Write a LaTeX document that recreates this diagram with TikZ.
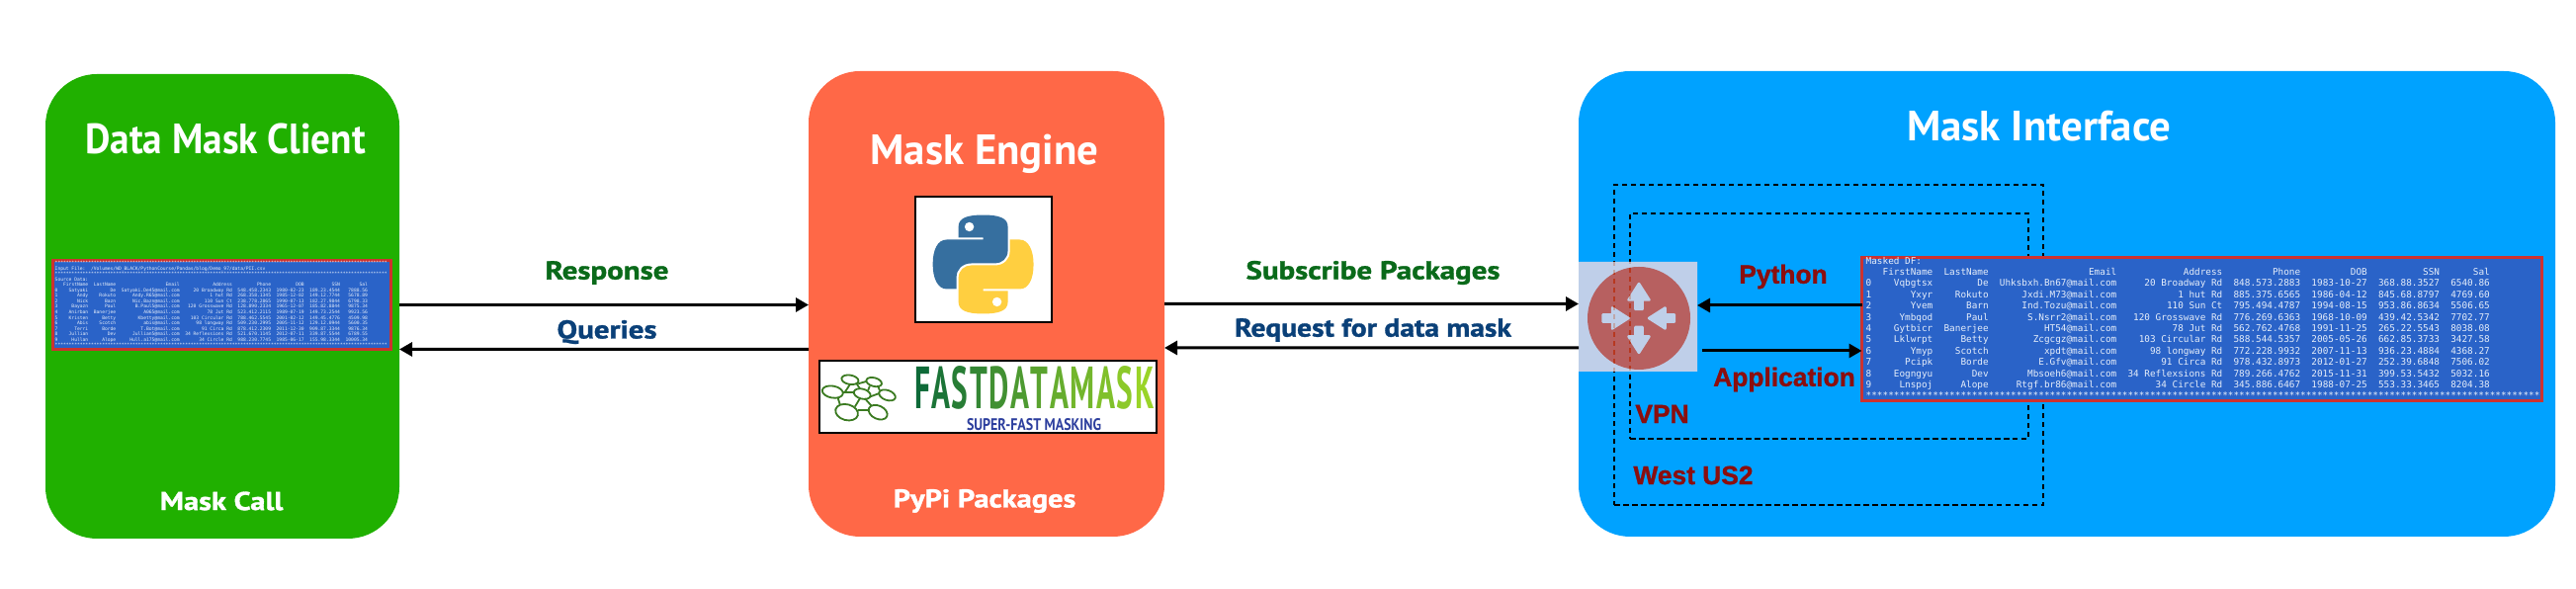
\documentclass[tikz,border=0pt]{standalone}
\usepackage{fontspec}
\setmainfont{PT Sans}
\setmonofont{DejaVu Sans Mono}
\newfontfamily\heavyfont{Liberation Sans}[BoldFeatures={FakeBold=1.2}]
\newfontfamily\flowfont{PT Sans}[BoldFeatures={FakeBold=1.2}]
\usetikzlibrary{arrows.meta}
\definecolor{clientgreen}{HTML}{20B000}
\definecolor{engineorange}{HTML}{FF6847}
\definecolor{ifaceblue}{HTML}{00A2FF}
\definecolor{tableblue}{HTML}{2A63C8}
\definecolor{tablered}{HTML}{CC3230}
\definecolor{tabletext}{HTML}{E6EEFA}
\definecolor{labelgreen}{HTML}{0A6A1A}
\definecolor{labelnavy}{HTML}{0A4078}
\definecolor{labelred}{HTML}{8B0E0E}
\definecolor{pyblue}{HTML}{366F9F}
\definecolor{pyyellow}{HTML}{FFCF40}
\definecolor{fdmdark}{HTML}{0E6A38}
\definecolor{fdmlime}{HTML}{9AD428}
\definecolor{fdmnet}{HTML}{3A7A20}
\definecolor{fdmtag}{HTML}{2D3F9E}
\definecolor{routerpink}{HTML}{FFDFE2}
\definecolor{routerred}{HTML}{F54B2B}
\newcommand{\bigtablefont}{\fontsize{2.663}{3.243}\selectfont\ttfamily\settowidth{\tabcolsep}{0}}
\newcommand{\smalltablefont}{\fontsize{1.323}{1.58}\selectfont\ttfamily\settowidth{\tabcolsep}{0}}
\newcommand{\starline}[1]{\multicolumn{9}{@{}l}{\rlap{\foreach \i in {1,...,#1}{*}}}}
\newcommand{\fulline}[1]{\multicolumn{9}{@{}l}{\rlap{#1}}}
\tikzset{
  panel/.style={rectangle, rounded corners=0.52cm, inner sep=0pt, outer sep=0pt},
  paneltitle/.style={text=white, inner sep=0pt, font=\fontsize{12.2}{14}\selectfont\bfseries},
  panelfoot/.style={text=white, inner sep=0pt, xscale=1.17, transform shape, font=\fontsize{7.4}{9}\selectfont\flowfont\bfseries},
  flowlabel/.style={inner sep=0pt, xscale=1.19, transform shape, font=\fontsize{7.4}{9}\selectfont\flowfont\bfseries},
  zonelabel/.style={text=labelred, inner sep=0pt, font=\fontsize{7.5}{9}\selectfont\heavyfont\bfseries},
  tablebox/.style={rectangle, draw=tablered, fill=tableblue, line width=0.03cm, inner sep=0pt, outer sep=0pt},
  logobox/.style={rectangle, draw=black, fill=white, line width=0.025cm, inner sep=0pt, outer sep=0pt},
  zonebox/.style={rectangle, draw=black, line width=0.02cm, dash pattern=on 0.055cm off 0.035cm, inner sep=0pt, outer sep=0pt},
  flow/.style={-{Triangle[length=0.13cm,width=0.14cm]}, line width=0.03cm, black},
  pysnake/.pic={
    \fill [pic actions] (-25,27) -- (-25,38) .. controls (-25,47) and (-16,50) .. (0,50)
      .. controls (16,50) and (25,47) .. (25,38) -- (25,14)
      .. controls (25,6) and (19,1) .. (12,1) -- (-12,1)
      .. controls (-21,1) and (-27,-5) .. (-27,-13) -- (-27,-25) -- (-37,-25)
      .. controls (-46,-25) and (-51,-14) .. (-51,0)
      .. controls (-51,15) and (-46,25) .. (-37,25) -- (0,25) -- (0,27) -- cycle;
  },
  routerglyph/.pic={
    \filldraw [pic actions, line join=round, line width=0.025cm] (0,13) -- (10.5,-3.5) -- (3.7,-3.5)
      -- (3.7,-13) -- (-3.7,-13) -- (-3.7,-3.5) -- (-10.5,-3.5) -- cycle;
  }
}
\begin{document}
\begin{tikzpicture}
  \useasboundingbox (0,0) rectangle (26.06,5.96);
  \node (client) [panel, fill=clientgreen, minimum width=3.58cm, minimum height=4.70cm] at (2.25,2.86) {};
  \node (engine) [panel, fill=engineorange, minimum width=3.60cm, minimum height=4.71cm] at (9.98,2.885) {};
  \node (iface) [panel, fill=ifaceblue, minimum width=9.88cm, minimum height=4.71cm] at (20.91,2.885) {};

  \node (clienttitle) [paneltitle, xscale=0.915, transform shape] at (2.28,4.55) {Data Mask Client};
  \node (clientfoot) [panelfoot] at (2.24,0.89) {Mask Call};
  \node (enginetitle) [paneltitle] at (9.96,4.40) {Mask Engine};
  \node (enginefoot) [panelfoot] at (9.96,0.89) {PyPi Packages};
  \node (ifacetitle) [paneltitle] at (20.63,4.68) {Mask Interface};

  \node (clienttable) [tablebox, minimum width=3.42cm, minimum height=0.90cm] at (2.245,2.875) {};
  \node (clientrows) [anchor=north west, inner sep=0pt, text=tabletext, font=\smalltablefont] at (0.55,3.33) {%
    \begin{tabular}{@{}l*{8}{r}@{}}
    \starline{120}\\
    \fulline{Input File:~~/Volumes/WD\_BLACK/PythonCourse/Pandas/blog/Demo\_97/data/PII.csv}\\
    \starline{120}\\
    \fulline{Source Data:}\\
     & FirstName & LastName & Email & Address & Phone & DOB & SSN & Sal\\
    0 & Satyaki & De & Satyaki.De45@mail.com & 20 Broadway Rd & 548.458.2343 & 1980-02-23 & 189.23.4544 & 7888.56\\
    1 & Andy & Rokuto & Andy.R65@mail.com & 1 hut Rd & 268.358.1345 & 1985-12-02 & 149.12.7744 & 5678.89\\
    2 & Nick & Bazn & Nic.Bazn@mail.com & 110 Sun Ct & 238.778.2865 & 1990-07-13 & 182.27.9844 & 6798.33\\
    3 & Bayazn & Paul & B.Paul5@mail.com & 120 Grosswave Rd & 128.890.2334 & 1965-12-07 & 185.82.8844 & 9875.34\\
    4 & Anirban & Banerjee & A065@mail.com & 78 Jut Rd & 523.412.2115 & 1989-07-19 & 149.73.2544 & 9923.56\\
    5 & Kristen & Betty & Kbetty@mail.com & 103 Circular Rd & 788.462.5545 & 2001-02-12 & 149.45.4776 & 4509.98\\
    6 & Abis & Scotch & abis@mail.com & 98 longway Rd & 509.230.2995 & 2005-11-12 & 129.12.0944 & 5600.35\\
    7 & Terri & Borde & T.Bot@mail.com & 91 Circa Rd & 878.412.2309 & 2011-12-30 & 909.87.3344 & 9876.34\\
    8 & Jullian & Dev & Jullian5@mail.com & 34 Reflexsions Rd & 521.670.1145 & 2012-07-11 & 339.87.5544 & 6789.55\\
    9 & Hullan & Alope & Hull.a175@mail.com & 34 Circle Rd & 988.230.7745 & 1985-06-17 & 155.98.3344 & 10005.34\\
    \starline{120}
    \end{tabular}};

  \node (pylogo) [logobox, minimum width=1.38cm, minimum height=1.27cm] at (9.95,3.335) {};
  \begin{scope}[shift={(9.946,3.285)}, x=0.01cm, y=0.01cm]
    \pic [fill=pyblue] {pysnake};
    \pic [fill=pyyellow, rotate=180] {pysnake};
    \fill [white] (-14,38) circle (4.7);
    \fill [white] (14,-38) circle (4.7);
  \end{scope}

  \node (fdmlogo) [logobox, minimum width=3.41cm, minimum height=0.73cm] at (9.995,1.945) {};
  \begin{scope}[shift={(8.25,2.36)}, x=0.003333cm, y=-0.003333cm]
    \foreach \cx/\cy/\rx/\ry/\tilt in {105/73/26/14/-10, 178/80/24/13/-15, 52/110/32/18/-10, 142/116/26/15/-15, 218/120/26/15/-20, 95/172/35/24/-15, 190/172/30/20/-25}
      \draw [fdmnet, line width=0.018cm] (\cx,\cy) ellipse [x radius=\rx, y radius=\ry, rotate=\tilt];
    \foreach \ax/\ay/\bx/\by in {68/128/75/150, 85/112/116/112, 105/87/90/110, 130/85/155/78, 125/85/135/100, 165/92/160/105, 190/92/195/105, 165/125/192/115, 135/130/120/155, 150/130/170/152, 128/165/160/165}
      \draw [fdmnet, line width=0.018cm] (\ax,\ay) -- (\bx,\by);
  \end{scope}
  \node (fdmname) [inner sep=0pt] at (10.47,2.04) {\resizebox{2.44cm}{0.43cm}{%
    \foreach \ltr [count=\k] in {F,A,S,T,D,A,T,A,M,A,S,K}{%
      \pgfmathtruncatemacro{\mix}{(\k-1)*100/11}\textcolor{fdmlime!\mix!fdmdark}{\bfseries\ltr}\kern0.05em}}};
  \node (fdmtagline) [inner sep=0pt, text=fdmtag] at (10.46,1.665) {\resizebox{1.36cm}{0.12cm}{\bfseries SUPER-FAST MASKING}};

  \node (westzone) [zonebox, minimum width=4.34cm, minimum height=3.24cm] at (18.50,2.47) {};
  \node (vpnzone) [zonebox, minimum width=4.03cm, minimum height=2.28cm] at (18.505,2.66) {};

  \begin{scope}[transparency group, opacity=0.75]
    \node (router) [rectangle, fill=routerpink, inner sep=0pt, outer sep=0pt, minimum width=1.20cm, minimum height=1.11cm] at (16.57,2.755) {};
    \node (routerdisc) [circle, fill=routerred, inner sep=0pt, minimum size=1.04cm] at (16.58,2.74) {};
    \begin{scope}[shift={(16.58,2.74)}, x=0.01cm, y=0.01cm]
      \pic [fill=routerpink, draw=routerpink] at (0,22) {routerglyph};
      \pic [fill=routerpink, draw=routerpink, rotate=180] at (0,-22) {routerglyph};
      \pic [fill=routerpink, draw=routerpink, rotate=-90] at (-23.5,0) {routerglyph};
      \pic [fill=routerpink, draw=routerpink, rotate=90] at (23,0) {routerglyph};
    \end{scope}
  \end{scope}

  \node (masktable) [tablebox, minimum width=6.88cm, minimum height=1.45cm] at (22.275,2.63) {};
  \node (maskrows) [anchor=north west, inner sep=0pt, text=tabletext, font=\bigtablefont] at (18.87,3.375) {%
    \begin{tabular}{@{}l*{8}{r}@{}}
    \fulline{Masked DF:}\\
     & FirstName & LastName & Email & Address & Phone & DOB & SSN & Sal\\
    0 & Vqbgtsx & De & Uhksbxh.Bn67@mail.com & 20 Broadway Rd & 848.573.2883 & 1983-10-27 & 368.88.3527 & 6540.86\\
    1 & Yxyr & Rokuto & Jxdi.M73@mail.com & 1 hut Rd & 885.375.6565 & 1986-04-12 & 845.68.8797 & 4769.60\\
    2 & Yvem & Barn & Ind.Tozu@mail.com & 110 Sun Ct & 795.494.4787 & 1994-08-15 & 953.86.8634 & 5506.65\\
    3 & Ymbqod & Paul & S.Nsrr2@mail.com & 120 Grosswave Rd & 776.269.6363 & 1968-10-09 & 439.42.5342 & 7702.77\\
    4 & Gytbicr & Banerjee & HT54@mail.com & 78 Jut Rd & 562.762.4768 & 1991-11-25 & 265.22.5543 & 8038.08\\
    5 & Lklwrpt & Betty & Zcgcgz@mail.com & 103 Circular Rd & 588.544.5357 & 2005-05-26 & 662.85.3733 & 3427.58\\
    6 & Ymyp & Scotch & xpdt@mail.com & 98 longway Rd & 772.228.9932 & 2007-11-13 & 936.23.4884 & 4368.27\\
    7 & Pcipk & Borde & E.Gfv@mail.com & 91 Circa Rd & 978.432.8973 & 2012-01-27 & 252.39.6848 & 7506.02\\
    8 & Eogngyu & Dev & Mbsoeh6@mail.com & 34 Reflexsions Rd & 789.266.4762 & 2015-11-31 & 399.53.5432 & 5032.16\\
    9 & Lnspoj & Alope & Rtgf.br86@mail.com & 34 Circle Rd & 345.886.6467 & 1988-07-25 & 553.33.3465 & 8204.38\\
    \starline{121}
    \end{tabular}};

  \draw [flow] ([yshift=0.015cm]client.east) -- ([yshift=-0.01cm]engine.west);
  \draw [flow] ([yshift=-0.46cm]engine.west) -- ([yshift=-0.435cm]client.east);
  \draw [flow] (engine.east) -- ([yshift=0.13cm]router.west);
  \draw [flow] ([yshift=-0.315cm]router.west) -- ([yshift=-0.445cm]engine.east);
  \draw [flow] ([yshift=0.24cm]masktable.west) -- ([yshift=0.115cm]router.east);
  \draw [flow] ([xshift=0.05cm,yshift=-0.345cm]router.east) -- ([yshift=-0.22cm]masktable.west);

  \node (responselabel) [flowlabel, text=labelgreen] at (6.14,3.20) {Response};
  \node (querieslabel) [flowlabel, text=labelnavy] at (6.14,2.60) {Queries};
  \node (subscribelabel) [flowlabel, text=labelgreen] at (13.89,3.20) {Subscribe Packages};
  \node (requestlabel) [flowlabel, xscale=0.955, text=labelnavy] at (13.89,2.62) {Request for data mask};
  \node (pythonlabel) [zonelabel] at (18.04,3.16) {Python};
  \node (applabel) [zonelabel] at (18.05,2.12) {Application};
  \node (vpnlabel) [zonelabel] at (16.815,1.77) {VPN};
  \node (westlabel) [zonelabel] at (17.13,1.15) {West US2};
\end{tikzpicture}
\end{document}
